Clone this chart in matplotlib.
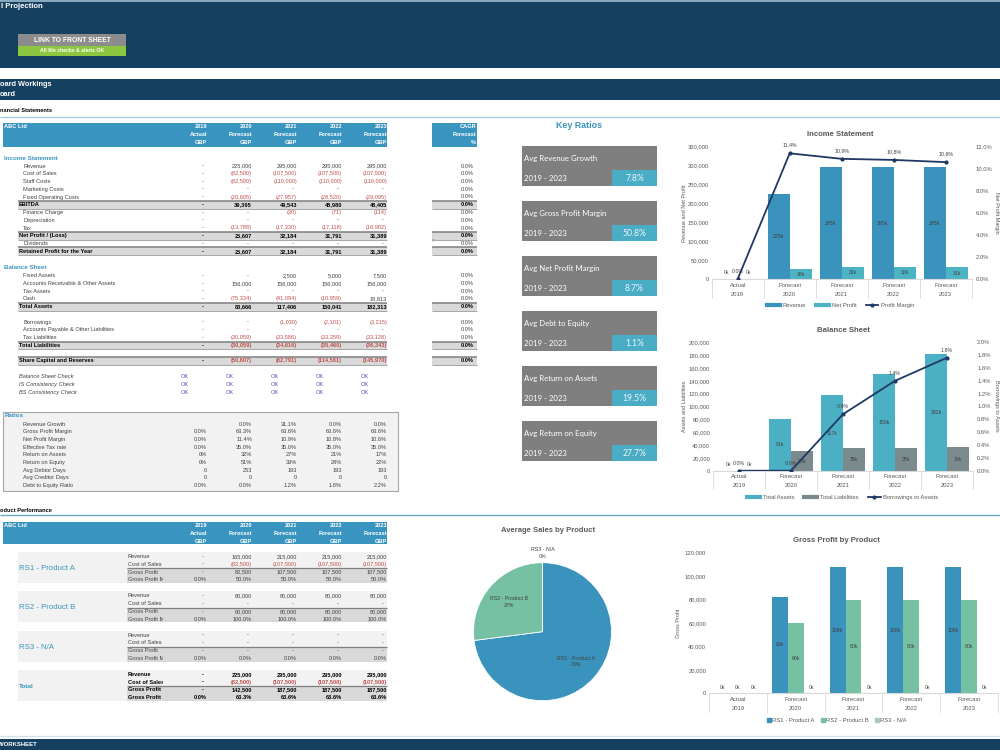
import numpy as np
import matplotlib.pyplot as plt
from matplotlib.patches import Rectangle, Polygon
from matplotlib.lines import Line2D
from matplotlib.ticker import FuncFormatter
from matplotlib.transforms import blended_transform_factory

plt.rcParams['font.family'] = ['Liberation Sans', 'DejaVu Sans']

# ---------------- data ----------------
years = ['2019', '2020', '2021', '2022', '2023']
year_types = ['Actual', 'Forecast', 'Forecast', 'Forecast', 'Forecast']

# income statement (GBP)
revenue = [0, 225000, 295000, 295000, 295000]
cost_of_sales = [0, -82500, -107500, -107500, -107500]
staff_costs = [0, -82500, -110000, -110000, -110000]
marketing_costs = [0, 0, 0, 0, 0]
fixed_costs = [0, -20605, -27957, -28520, -29095]
ebitda = [0, 39395, 49543, 48980, 48405]
finance_charge = [0, 0, -30, -71, -114]
depreciation = [0, 0, 0, 0, 0]
tax = [0, -13788, -17330, -17118, -16902]
net_profit = [0, 25607, 32184, 31791, 31389]
dividends = [0, 0, 0, 0, 0]
retained_profit = [0, 25607, 32184, 31791, 31389]
cagr_income = [0.0, 0.0, 0.0, 0.0, 0.0, 0.0, 0.0, 0.0, 0.0, 0.0, 0.0, 0.0]

# balance sheet (GBP)
fixed_assets = [0, 0, 2500, 5000, 7500]
receivables = [0, 156000, 156000, 156000, 156000]
tax_assets = [0, 0, 0, 0, 0]
cash = [0, -75334, -41094, -10959, 18813]
total_assets = [0, 80666, 117406, 150041, 182313]
borrowings = [0, 0, -1030, -2101, -3215]
payables = [0, 0, 0, 0, 0]
tax_liabilities = [0, -30059, -33586, -33359, -33128]
total_liabilities = [0, -30059, -34616, -35460, -36343]
share_capital = [0, -50607, -82791, -114581, -145970]
cagr_balance = [0.0, 0.0, 0.0, 0.0, 0.0, 0.0, 0.0, 0.0, 0.0, 0.0]

# ratios
revenue_growth = [None, 0.0, 31.1, 0.0, 0.0]
gross_margin = [0.0, 63.3, 63.6, 63.6, 63.6]
net_margin = [0.0, 11.4, 10.9, 10.8, 10.6]
tax_rate = [0.0, 35.0, 35.0, 35.0, 35.0]
return_on_assets = [0, 32, 27, 21, 17]
return_on_equity = [0, 51, 39, 28, 22]
debtor_days = [0, 253, 193, 193, 193]
creditor_days = [0, 0, 0, 0, 0]
debt_to_equity = [0.0, 0.0, 1.2, 1.8, 2.2]
borrowings_to_assets = [0.0, 0.0, 0.88, 1.40, 1.76]

# product performance
rs1_revenue = [0, 165000, 215000, 215000, 215000]
rs1_cost = [0, -82500, -107500, -107500, -107500]
rs1_gross = [0, 82500, 107500, 107500, 107500]
rs1_margin = [0.0, 50.0, 50.0, 50.0, 50.0]
rs2_revenue = [0, 60000, 80000, 80000, 80000]
rs2_cost = [0, 0, 0, 0, 0]
rs2_gross = [0, 60000, 80000, 80000, 80000]
rs2_margin = [0.0, 100.0, 100.0, 100.0, 100.0]
rs3_revenue = [0, 0, 0, 0, 0]
rs3_cost = [0, 0, 0, 0, 0]
rs3_gross = [0, 0, 0, 0, 0]
rs3_margin = [0.0, 0.0, 0.0, 0.0, 0.0]
tot_revenue = [0, 225000, 295000, 295000, 295000]
tot_cost = [0, -82500, -107500, -107500, -107500]
tot_gross = [0, 142500, 187500, 187500, 187500]
tot_margin = [0.0, 63.3, 63.6, 63.6, 63.6]
products = ['RS1 - Product A', 'RS2 - Product B', 'RS3 - N/A']

key_ratio_names = ['Avg Revenue Growth', 'Avg Gross Profit Margin', 'Avg Net Profit Margin',
                   'Avg Debt to Equity', 'Avg Return on Assets', 'Avg Return on Equity']
key_ratio_values = [7.8, 50.8, 8.7, 1.1, 19.5, 27.7]

# ---------------- style ----------------
NAVY = '#16405f'
BLUE = '#3a94c0'
TEAL = '#4bacc6'
RED = '#c0504d'
TXT = '#404040'
AX = '#595959'
C_REV = '#3a93bd'
C_NP = '#4bb3c4'
C_TA = '#4bb0c4'
C_TL = '#7b8a8c'
C_LINE = '#1f3864'
C_RS1 = '#3a93bd'
C_RS2 = '#76c0a4'
C_RS3 = '#a9ccb8'

W, H = 1000, 750
fig = plt.figure(figsize=(10, 7.5), dpi=100)
bg = fig.add_axes([0, 0, 1, 1])
bg.set_xlim(0, W)
bg.set_ylim(H, 0)
bg.axis('off')

col_x = [207, 252, 297, 342, 387]
FS = 4.1


def box(x0, y0, x1, y1, color, ec='none', lw=0):
    bg.add_patch(Rectangle((x0, y0), x1 - x0, y1 - y0, facecolor=color, edgecolor=ec, lw=lw))


def hline(y, x0, x1, color, lw=0.8):
    bg.plot([x0, x1], [y, y], color=color, lw=lw, solid_capstyle='butt')


def txt(x, y, s, size=FS, color=TXT, ha='left', weight='normal', **kw):
    return bg.text(x, y, s, fontsize=size, color=color, ha=ha, va='center', fontweight=weight, **kw)


def acc(v):
    if v == 0:
        return '-'
    if v < 0:
        return '({:,.0f})'.format(-v)
    return '{:,.0f}'.format(v)


def money_row(y, vals, bold=False):
    for c, v in zip(col_x, vals):
        color = RED if v < 0 else ('black' if bold else TXT)
        txt(c - (3 if v == 0 else 0), y, acc(v), FS, color, 'right', 'bold' if bold else 'normal')


def pct_row(y, vals, dec=1, suffix='%', bold=False):
    for c, v in zip(col_x, vals):
        if v is None:
            continue
        txt(c, y, '{:.{}f}{}'.format(v, dec, suffix), FS, 'black' if bold else TXT, 'right',
            'bold' if bold else 'normal')


def total_band(y, x0=18, x1=387):
    box(x0, y - 3.9, x1, y + 3.9, '#d9d9d9')
    hline(y - 3.9, x0, x1, '#7f7f7f', 1.1)
    hline(y + 3.9, x0, x1, '#a6a6a6', 0.7)


def table_header(y0, y1):
    box(3, y0, 387, y1, BLUE)
    txt(4, y0 + 4, 'ABC Ltd', FS, 'white', weight='bold')
    for i, c in enumerate(col_x):
        for j, s in enumerate([years[i], year_types[i], 'GBP']):
            txt(c, y0 + 4 + j * 8, s, FS, 'white', 'right', 'bold')


# ---------------- header bands ----------------
box(0, 0, W, 68, NAVY)
hline(0.6, 0, W, '#9fbdd0', 1.2)
txt(1, 6, 'l Projection', 5.6, 'white', weight='bold')
box(18, 34, 126, 46, '#8c8c8c')
txt(72, 40, 'LINK TO FRONT SHEET', 4.9, 'white', 'center', 'bold')
box(18, 46, 126, 56, '#8dc63f')
txt(72, 51, 'All file checks & alerts OK', 3.7, 'white', 'center', 'bold')
box(0, 79, W, 100, NAVY)
txt(0, 84.5, 'oard Workings', 5.3, 'white', weight='bold')
txt(0, 95, 'oard', 5.3, 'white', weight='bold')
txt(0, 111, 'nancial Statements', 4.1, 'black', weight='bold')
hline(116.5, 0, W, '#a9c8da', 1.0)

# ---------------- financial statements ----------------
table_header(123, 147)
box(432, 123, 477, 147, BLUE)
for j, s in enumerate(['CAGR', 'Forecast', '%']):
    txt(476, 127 + j * 8, s, FS, 'white', 'right', 'bold')

txt(4, 158, 'Income Statement', 4.5, BLUE, weight='bold')
is_rows = [('Revenue', revenue, False), ('Cost of Sales', cost_of_sales, False),
           ('Staff Costs', staff_costs, False), ('Marketing Costs', marketing_costs, False),
           ('Fixed Operating Costs', fixed_costs, False), ('EBITDA', ebitda, True),
           ('Finance Charge', finance_charge, False), ('Depreciation', depreciation, False),
           ('Tax', tax, False), ('Net Profit / (Loss)', net_profit, True),
           ('Dividends', dividends, False), ('Retained Profit for the Year', retained_profit, True)]
for i, (lab, vals, tot) in enumerate(is_rows):
    y = 166 + i * 7.75
    if tot:
        total_band(y)
        total_band(y, 432, 477)
        txt(19, y, lab, FS, 'black', weight='bold')
    else:
        txt(23, y, lab)
    money_row(y, vals, tot)
    txt(474, y, '{:.1f}%'.format(cagr_income[i]), FS, 'black' if tot else TXT, 'right',
        'bold' if tot else 'normal')
bg.add_patch(Polygon([[432.5, 239.5], [435, 239.5], [432.5, 242]], color='#3aa63a', lw=0))

txt(4, 267.7, 'Balance Sheet', 4.5, BLUE, weight='bold')
bs_rows = [('Fixed Assets', fixed_assets, False), ('Accounts Receivable & Other Assets', receivables, False),
           ('Tax Assets', tax_assets, False), ('Cash', cash, False), ('Total Assets', total_assets, True),
           None, ('Borrowings', borrowings, False), ('Accounts Payable & Other Liabilities', payables, False),
           ('Tax Liabilities', tax_liabilities, False), ('Total Liabilities', total_liabilities, True),
           None, ('Share Capital and Reserves', share_capital, True)]
k = 0
for i, row in enumerate(bs_rows):
    if row is None:
        continue
    lab, vals, tot = row
    y = 275.7 + i * 7.75
    if tot:
        total_band(y)
        total_band(y, 432, 477)
        txt(19, y, lab, FS, 'black', weight='bold')
    else:
        txt(23, y, lab)
    money_row(y, vals, tot)
    txt(474, y, '{:.1f}%'.format(cagr_balance[k]), FS, 'black' if tot else TXT, 'right',
        'bold' if tot else 'normal')
    k += 1

checks = ['Balance Sheet Check', 'IS Consistency Check', 'BS Consistency Check']
for i, lab in enumerate(checks):
    y = 376.9 + i * 7.75
    txt(19, y, lab, FS, TXT, style='italic')
    for c in col_x:
        txt(c - 22, y, 'OK', FS, '#4a4ab8', 'center')

# ratios box
box(3.3, 411.7, 398.3, 490.7, '#f2f2f2', ec='#a6a6a6', lw=0.8)
txt(4.5, 415.7, 'Ratios', 4.5, BLUE, weight='bold')
ratio_rows = [('Revenue Growth', revenue_growth, 1, '%'), ('Gross Profit Margin', gross_margin, 1, '%'),
              ('Net Profit Margin', net_margin, 1, '%'), ('Effective Tax rate', tax_rate, 1, '%'),
              ('Return on Assets', return_on_assets, 0, '%'), ('Return on Equity', return_on_equity, 0, '%'),
              ('Avg Debtor Days', debtor_days, 0, ''), ('Avg Creditor Days', creditor_days, 0, ''),
              ('Debt to Equity Ratio', debt_to_equity, 1, '%')]
for i, (lab, vals, dec, suf) in enumerate(ratio_rows):
    y = 424 + i * 7.7
    txt(23, y, lab)
    pct_row(y, vals, dec, suf)

# ---------------- product performance ----------------
txt(0, 510, 'oduct Performance', 4.1, 'black', weight='bold')
hline(514.5, 0, W, '#6aa9bd', 1.0)
table_header(521.7, 544.3)

blocks = [(products[0], rs1_revenue, rs1_cost, rs1_gross, rs1_margin, False),
          (products[1], rs2_revenue, rs2_cost, rs2_gross, rs2_margin, False),
          (products[2], rs3_revenue, rs3_cost, rs3_gross, rs3_margin, False),
          ('Total', tot_revenue, tot_cost, tot_gross, tot_margin, True)]
row_names = ['Revenue', 'Cost of Sales', 'Gross Profit', 'Gross Profit Margin']
for b, (name, rv, cs, gp, gm, bold) in enumerate(blocks):
    top = 552 + b * 39.3
    box(18, top, 387, top + 31, '#f2f2f2')
    box(127, top + 16.2, 387, top + 31, '#d9d9d9')
    hline(top + 16.2, 127, 387, '#7f7f7f', 0.9)
    txt(19, top + 16.5, name, 5.6 if not bold else 4.6, BLUE, weight='bold' if bold else 'normal')
    w = 'bold' if bold else 'normal'
    for r in range(4):
        y = top + 4.5 + r * 7.75
        t = txt(128, y, row_names[r], FS, 'black' if bold else TXT, weight=w)
        t.set_clip_on(True)
        t.set_clip_path(Rectangle((126, y - 6), 37, 12, transform=bg.transData))
    money_row(top + 4.5, rv, bold)
    money_row(top + 12.25, cs, bold)
    money_row(top + 20.0, gp, bold)
    pct_row(top + 27.75, gm, 1, '%', bold)

# bottom
hline(735.7, 0, W, '#cfe2ee', 1.0)
box(0, 739, W, 750, NAVY)
txt(-1.5, 744.5, 'WORKSHEET', 4.3, 'white', weight='bold')

# ---------------- key ratios ----------------
txt(579, 126, 'Key Ratios', 6.4, BLUE, 'center', 'bold')
lato = ['Lato', 'DejaVu Sans']
for i, (name, val) in enumerate(zip(key_ratio_names, key_ratio_values)):
    top = 146 + i * 55
    box(522, top, 657, top + 40, '#7f7f7f')
    bg.text(524, top + 12.3, name, family=lato, fontsize=5.6, color='white', va='center')
    bg.text(524, top + 32.3, '2019 - 2023', family=lato, fontsize=5.6, color='white', va='center')
    box(612, top + 24, 657, top + 40, TEAL)
    bg.text(634.5, top + 32.3, '{:.1f}%'.format(val), family=lato, fontsize=6.2, color='#eaf6f9',
            ha='center', va='center')


# ---------------- charts ----------------
def chart_axes(x0, y0, x1, y1):
    ax = fig.add_axes([x0 / W, 1 - y1 / H, (x1 - x0) / W, (y1 - y0) / H])
    ax.patch.set_alpha(0)
    for s in ax.spines.values():
        s.set_visible(False)
    ax.spines['bottom'].set_visible(True)
    ax.spines['bottom'].set_color('#d9d9d9')
    ax.spines['bottom'].set_linewidth(0.8)
    ax.set_xlim(-0.5, 4.5)
    ax.set_xticks([])
    ax.tick_params(axis='y', length=0, labelsize=4.2, labelcolor=AX, pad=2)
    ax.yaxis.set_major_formatter(FuncFormatter(lambda v, p: '{:,.0f}'.format(v)))
    tr = blended_transform_factory(ax.transData, bg.transData)
    for i in range(5):
        ax.text(i, y1 + 6.3, year_types[i], transform=tr, ha='center', va='center', fontsize=4.2, color=AX)
        ax.text(i, y1 + 15.2, years[i], transform=tr, ha='center', va='center', fontsize=4.2, color=AX)
    for i in range(6):
        ax.plot([i - 0.5, i - 0.5], [y1, y1 + 18.5], transform=tr, color='#d9d9d9', lw=0.6, clip_on=False)
    return ax


def right_axis(ax, top):
    axr = ax.twinx()
    for s in axr.spines.values():
        s.set_visible(False)
    axr.set_ylim(0, top)
    axr.tick_params(axis='y', length=0, labelsize=4.2, labelcolor=AX, pad=3)
    axr.yaxis.set_major_formatter(FuncFormatter(lambda v, p: '{:.1f}%'.format(v)))
    return axr


def k_label(v):
    return '{}k'.format(int(abs(v) / 1000 + 0.5))


def bar_labels(ax, xs, vals):
    for x, v in zip(xs, vals):
        ax.annotate(k_label(v), (x, abs(v) / 2), xytext=(0, 4.5 if v == 0 else 0),
                    textcoords='offset points', ha='center', va='center', fontsize=3.7, color=TXT)


def line_labels(ax, xs, vals):
    for x, v in zip(xs, vals):
        ax.annotate('{:.1f}%'.format(v), (x, v), xytext=(0, 3.5), textcoords='offset points',
                    ha='center', va='bottom', fontsize=3.8, color=TXT)


x = np.arange(5)

# income statement chart
txt(840, 135, 'Income Statement', 5.6, AX, 'center', 'bold')
ax1 = chart_axes(711.7, 146.7, 971.7, 279)
ax1.bar(x - 0.21, revenue, 0.42, color=C_REV)
ax1.bar(x + 0.21, net_profit, 0.42, color=C_NP)
ax1.set_ylim(0, 350000)
ax1.set_yticks(np.arange(0, 350001, 50000))
bar_labels(ax1, x - 0.21, revenue)
bar_labels(ax1, x + 0.21, net_profit)
ax1r = right_axis(ax1, 12)
ax1r.set_yticks(np.arange(0, 12.01, 2))
ax1r.plot(x, net_margin, color=C_LINE, lw=1.3, marker='o', ms=2)
line_labels(ax1r, x, net_margin)
txt(685, 213, 'Revenue and Net Profit', 4.0, AX, 'center', rotation=90)
txt(996, 213, 'Net Profit Margin', 4.0, AX, 'center', rotation=270)
fig.legend([Line2D([], [], color=C_REV, lw=3), Line2D([], [], color=C_NP, lw=3),
            Line2D([], [], color=C_LINE, lw=1.3, marker='o', ms=2)],
           ['Revenue', 'Net Profit', 'Profit Margin'], loc='center',
           bbox_to_anchor=(841 / W, 1 - 305.7 / H), ncol=3, frameon=False, fontsize=4.2,
           handlelength=2.2, columnspacing=1.6, handletextpad=0.5, labelcolor=AX)

# balance sheet chart
txt(843, 330.7, 'Balance Sheet', 5.6, AX, 'center', 'bold')
ax2 = chart_axes(713, 342.3, 973, 470.7)
liab = [abs(v) for v in total_liabilities]
ax2.bar(x - 0.21, total_assets, 0.42, color=C_TA)
ax2.bar(x + 0.21, liab, 0.42, color=C_TL)
ax2.set_ylim(0, 200000)
ax2.set_yticks(np.arange(0, 200001, 20000))
bar_labels(ax2, x - 0.21, total_assets)
bar_labels(ax2, x + 0.21, liab)
ax2r = right_axis(ax2, 2.0)
ax2r.set_yticks(np.arange(0, 2.01, 0.2))
ax2r.plot(x, borrowings_to_assets, color=C_LINE, lw=1.3, marker='o', ms=2)
line_labels(ax2r, x, borrowings_to_assets)
txt(685, 406, 'Assets and Liabilities', 4.0, AX, 'center', rotation=90)
txt(997, 406, 'Borrowings to Assets', 4.0, AX, 'center', rotation=270)
fig.legend([Line2D([], [], color=C_TA, lw=3), Line2D([], [], color=C_TL, lw=3),
            Line2D([], [], color=C_LINE, lw=1.3, marker='o', ms=2)],
           ['Total Assets', 'Total Liabilities', 'Borrowings to Assets'], loc='center',
           bbox_to_anchor=(843 / W, 1 - 497.7 / H), ncol=3, frameon=False, fontsize=4.2,
           handlelength=2.2, columnspacing=1.6, handletextpad=0.5, labelcolor=AX)

# gross profit chart
txt(836.7, 540.7, 'Gross Profit by Product', 5.6, AX, 'center', 'bold')
ax3 = chart_axes(709, 552.7, 998, 693.3)
bw = 0.275
for off, vals, c in [(-bw, rs1_gross, C_RS1), (0, rs2_gross, C_RS2), (bw, rs3_gross, C_RS3)]:
    ax3.bar(x + off, vals, bw, color=c)
    bar_labels(ax3, x + off, vals)
ax3.set_ylim(0, 120000)
ax3.set_yticks(np.arange(0, 120001, 20000))
txt(679, 623, 'Gross Profit', 4.0, AX, 'center', rotation=90)
fig.legend([Line2D([], [], color=c, lw=0, marker='s', ms=2.5) for c in (C_RS1, C_RS2, C_RS3)],
           products, loc='center', bbox_to_anchor=(836.7 / W, 1 - 720 / H), ncol=3, frameon=False,
           fontsize=4.2, handlelength=0.6, columnspacing=1.2, handletextpad=0.2, labelcolor=AX)

# pie chart
txt(547.7, 530, 'Average Sales by Product', 5.5, AX, 'center', 'bold')
avg_sales = [np.mean(rs1_revenue), np.mean(rs2_revenue), np.mean(rs3_revenue)]
axp = fig.add_axes([473.5 / W, 1 - 700.7 / H, 138 / W, 138 / H])
wedges, _ = axp.pie(avg_sales, colors=[C_RS1, C_RS2, C_RS3], startangle=90, counterclock=False,
                    wedgeprops=dict(edgecolor='white', lw=0.6))
axp.set_xlim(-1, 1)
axp.set_ylim(-1, 1)
total_sales = sum(avg_sales)
for wdg, name, v in zip(wedges, products, avg_sales):
    ang = np.deg2rad((wdg.theta1 + wdg.theta2) / 2)
    r = 0.65 if v > 0 else 1.14
    axp.text(r * np.cos(ang), r * np.sin(ang), '{}\n{:.0f}%'.format(name, 100 * v / total_sales),
             ha='center', va='center', fontsize=3.8, color=TXT, linespacing=1.3)

fig.savefig('out.png', dpi=100)
